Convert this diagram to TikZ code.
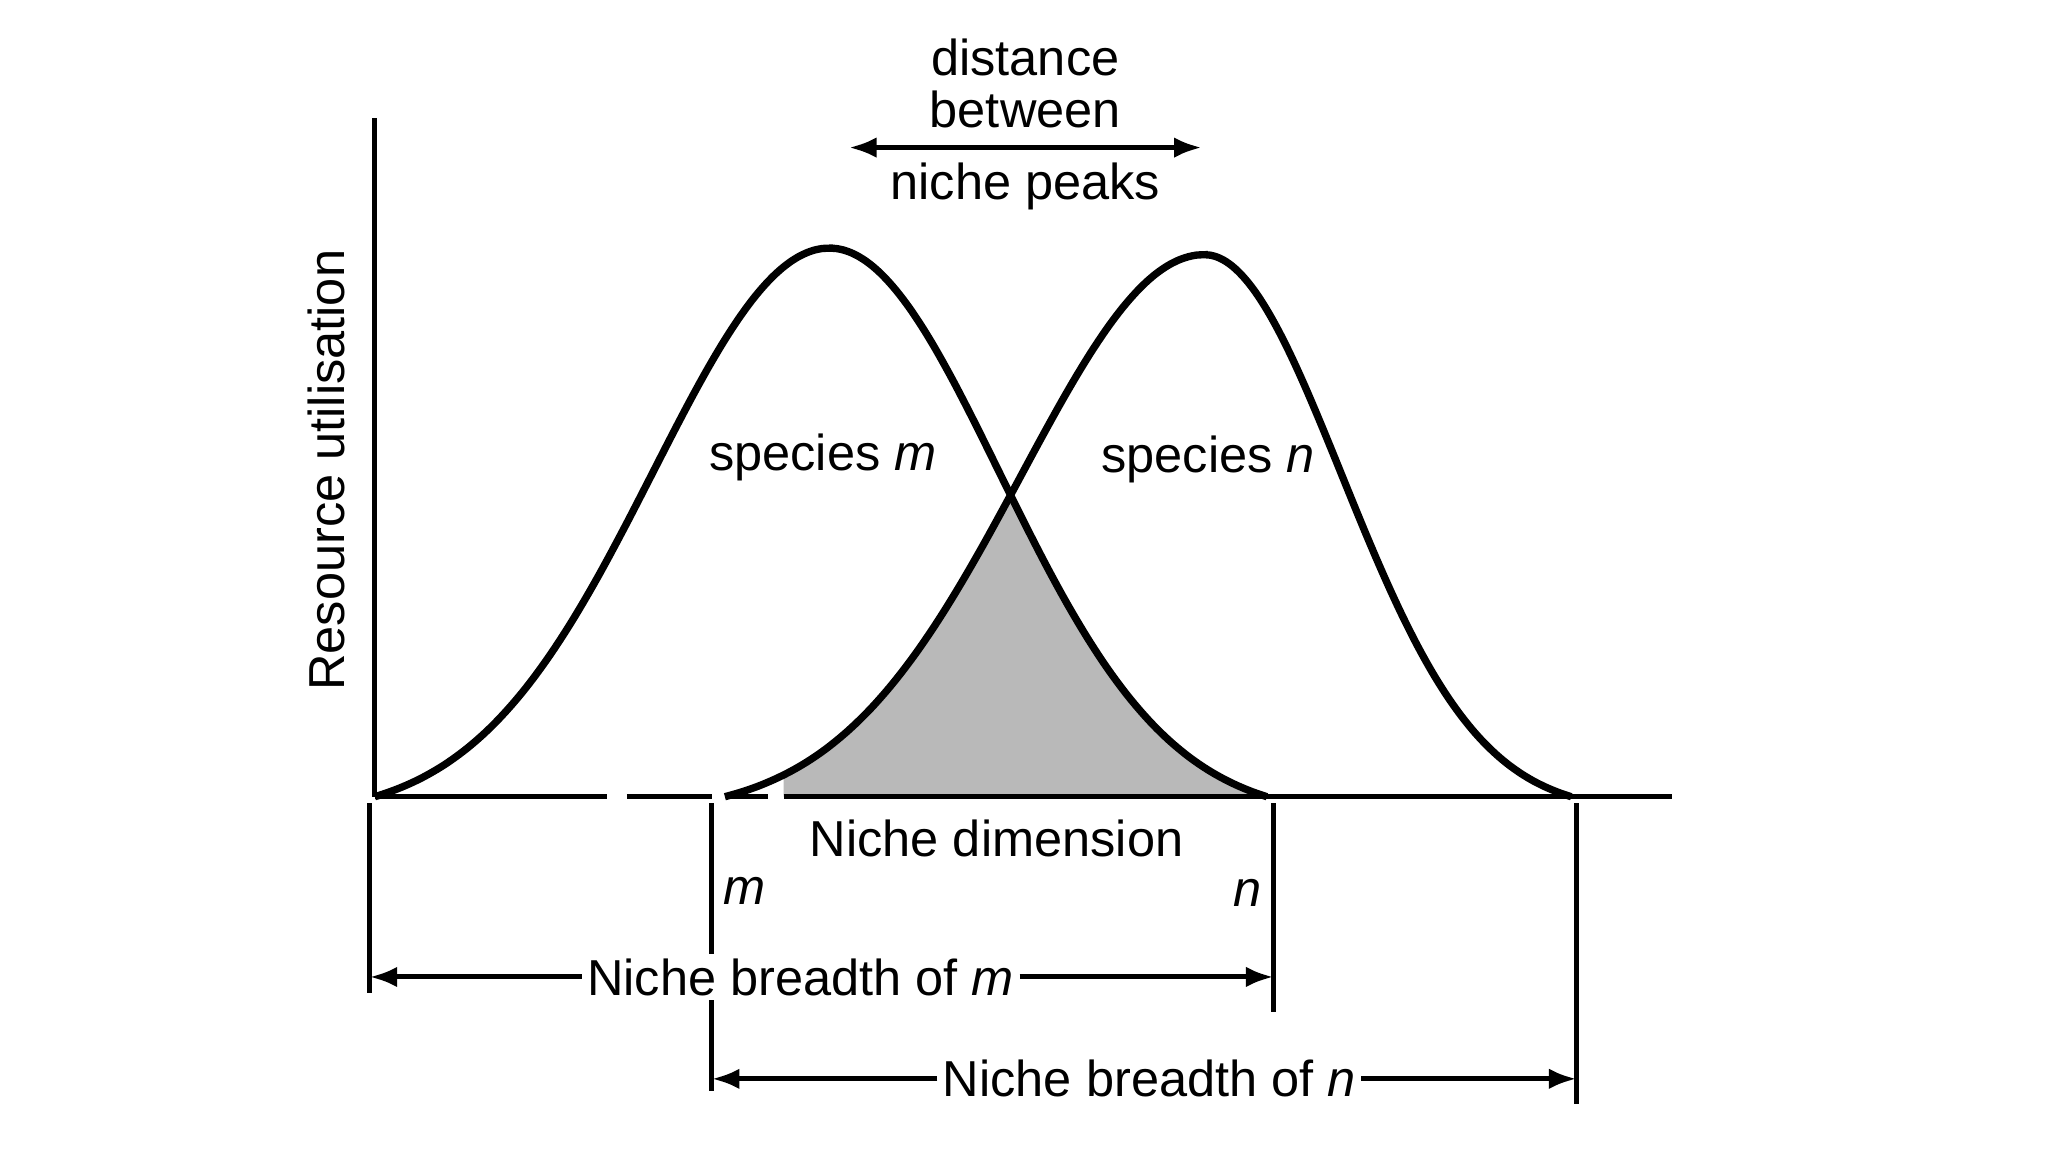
\documentclass[tikz,border=0pt]{standalone}
\usepackage{fontspec}
\setmainfont{Liberation Sans}
\usetikzlibrary{arrows.meta}
\begin{document}
\begin{tikzpicture}[x=0.01cm,y=0.01cm,
  lbl/.style={font=\fontsize{11}{13}\selectfont, inner sep=1pt},
  crv/.style={line width=1.6pt},
  ln/.style={line width=1.1pt},
  declare function={
    g(\d,\s,\w)=(exp(-(\d/\s)^2/2)-exp(-(\w/\s)^2/2))/(1-exp(-(\w/\s)^2/2));
  }]
\useasboundingbox (0,0) rectangle (1568,882);
% shaded overlap
\fill[gray!55] plot[domain=600:775,samples=40,smooth] (\x,{272+415*g(922-\x,140,367)})
  -- plot[domain=775:970,samples=40,smooth] (\x,{272+420*g(\x-635,130,335)}) -- (600,272) -- cycle;
% axes
\draw[ln] (287,272) -- (287,792);
\draw[ln] (287,272) -- (465,272) (480,272) -- (545,272) (557,272) -- (588,272) (600,272) -- (1280,272);
% curves
\draw[crv] plot[domain=287:635,samples=60,smooth] (\x,{272+420*g(635-\x,135,348)})
  -- plot[domain=635:970,samples=60,smooth] (\x,{272+420*g(\x-635,130,335)});
\draw[crv] plot[domain=555:922,samples=60,smooth] (\x,{272+415*g(922-\x,140,367)})
  -- plot[domain=922:1203,samples=60,smooth] (\x,{272+415*g(\x-922,105,281)});
% verticals
\coordinate (a1) at (283,267); \coordinate (a2) at (283,122);
\coordinate (b1) at (545,267); \coordinate (b2) at (545,47);
\coordinate (c1) at (975,267); \coordinate (c2) at (975,107);
\coordinate (d1) at (1207,267); \coordinate (d2) at (1207,37);
\draw[ln] (a1)--(a2) (b1)--(b2) (c1)--(c2) (d1)--(d2);
% dimension arrows
\node[lbl,fill=white] (bm) at (613,134) {Niche breadth of \textit{m}};
\draw[ln,-{Latex[length=6pt]}] (bm.west) -- (283,134);
\draw[ln,-{Latex[length=6pt]}] (bm.east) -- (975,134);
\node[lbl,fill=white] (bn) at (880,56) {Niche breadth of \textit{n}};
\draw[ln,-{Latex[length=6pt]}] (bn.west) -- (545,56);
\draw[ln,-{Latex[length=6pt]}] (bn.east) -- (1207,56);
% labels
\node[lbl] (d) at (785,838) {distance};
\node[lbl] (bt) at (785,798) {between};
\node[lbl] (np) at (785,739) {niche peaks};
\coordinate (pl) at (650,769); \coordinate (pr) at (920,769);
\draw[ln,{Latex[length=6pt]}-{Latex[length=6pt]}] (pl) -- (pr);
\node[lbl] (sm) at (630,532) {species \textit{m}};
\node[lbl] (sn) at (925,530) {species \textit{n}};
\node[lbl] (nd) at (763,240) {Niche dimension};
\node[lbl] (lm) at (570,200) {\textit{m}};
\node[lbl] (lnn) at (955,198) {\textit{n}};
\node[lbl,rotate=90] (yl) at (250,522) {Resource utilisation};
\end{tikzpicture}
\end{document}
